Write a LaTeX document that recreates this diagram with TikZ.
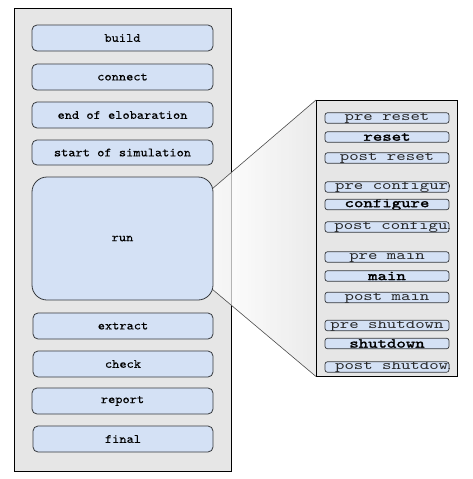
\documentclass[tikz,border=0pt]{standalone}
\usepackage{fontspec}
\newfontfamily\lmono[Extension=.otf,FakeStretch=1.1,FakeBold=0.25]{lmmono10-regular}
\newfontfamily\wmono[Extension=.otf,FakeStretch=1.32]{lmmono10-regular}
\newfontfamily\wmonob[Extension=.otf,FakeStretch=1.32,FakeBold=2]{lmmono10-regular}
\definecolor{boxblue}{HTML}{D4E1F5}
\definecolor{panelgray}{HTML}{E6E6E6}
\definecolor{edgegray}{HTML}{36393D}
\tikzset{
  panel/.style={draw=black, fill=panelgray, line width=0.8pt, inner sep=0pt},
  phase/.style={draw=edgegray, fill=boxblue, rounded corners=5pt, line width=0.8pt,
    minimum width=181pt, minimum height=26pt, inner sep=0pt,
    font=\lmono\fontsize{12.5}{13}\selectfont, text=black},
  subbox/.style={draw=edgegray, fill=boxblue, rounded corners=2.5pt, line width=0.7pt,
    minimum width=124pt, minimum height=10.5pt, inner sep=0pt},
  subtxt/.style={inner sep=0pt, font=\wmono\fontsize{13.6}{10}\selectfont, text=black!85},
  subbold/.style={subtxt, font=\wmonob\fontsize{13.6}{10}\selectfont, text=black},
  zoomline/.style={draw=black!70, line width=0.6pt}
}
\newcommand{\csub}[4]{%
  \node[subbox, path picture={\node[#3] (#1t) at (path picture bounding box.center) {#4};}] (#1) at (387,#2) {};}
\newcommand{\lsub}[4]{%
  \node[subbox, path picture={\node[#3, anchor=west] (#1t) at ([xshift=9pt]path picture bounding box.west) {#4};}] (#1) at (387,#2) {};}
\begin{document}
\begin{tikzpicture}[x=1pt,y=-1pt]
\useasboundingbox (0,0) rectangle (473,479);
% left panel
\node[panel, minimum width=217pt, minimum height=463pt] (lp) at (122.5,239.5) {};
% zoom trapezoid
\coordinate (za) at (212,189);
\coordinate (zb) at (212,289);
\coordinate (ra) at (316,100);
\coordinate (rb) at (316,376.5);
\shade[left color=white, right color=gray!22, fill opacity=0.72] (za) -- (ra) -- (rb) -- (zb) -- cycle;
\draw[zoomline] (za) -- (ra);
\draw[zoomline] (zb) -- (rb);
% phases
\node[phase] (build) at (122.5,38) {build};
\node[phase] (connect) at (122.5,77) {connect};
\node[phase] (eoe) at (122.5,115) {end of elobaration};
\node[phase, minimum height=25pt] (sos) at (122.5,152.5) {start of simulation};
\node[phase, minimum height=123pt, rounded corners=15pt] (run) at (122.5,238.5) {run};
\node[phase, minimum width=180pt] (extract) at (123,326) {extract};
\node[phase, minimum width=180pt] (check) at (123,364) {check};
\node[phase] (report) at (122.5,401) {report};
\node[phase, minimum width=180pt] (final) at (123,439) {final};
% right panel
\node[panel, minimum width=141pt, minimum height=276.5pt] (rp) at (386.5,238.25) {};
\csub{prereset}{118}{subtxt}{pre reset}
\csub{reset}{137}{subbold}{reset}
\csub{postreset}{158}{subtxt}{post reset}
\lsub{preconf}{187}{subtxt}{pre configure}
\csub{conf}{204.5}{subbold}{configure}
\lsub{postconf}{227}{subtxt}{post configure}
\csub{premain}{257}{subtxt}{pre main}
\csub{main}{276}{subbold}{main}
\csub{postmain}{297.5}{subtxt}{post main}
\csub{preshut}{325.5}{subtxt}{pre shutdown}
\csub{shut}{343.5}{subbold}{shutdown}
\lsub{postshut}{367}{subtxt}{post shutdown}
\end{tikzpicture}
\end{document}
